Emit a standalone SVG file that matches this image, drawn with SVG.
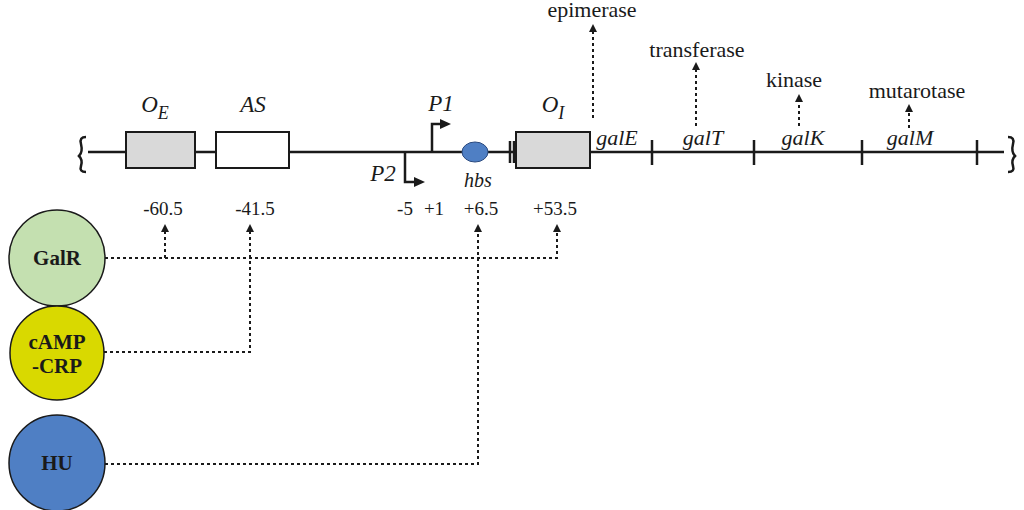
<svg xmlns="http://www.w3.org/2000/svg" width="1024" height="510" viewBox="0 0 1024 510">
<style>
.ln{stroke:#1a1a1a;stroke-width:2.5;fill:none}
.dt{stroke:#1a1a1a;stroke-width:2;stroke-dasharray:3,3;fill:none}
.t{font-family:"Liberation Serif",serif;font-size:19px;fill:#1a1a1a;text-anchor:middle}
.i{font-style:italic}
.g{font-size:22px}
.e{font-size:22px}
.b{font-size:23px}
.c{font-family:"Liberation Serif",serif;font-size:21px;font-weight:bold;fill:#1a1a1a;text-anchor:middle}
.box{stroke:#1a1a1a;stroke-width:2}
</style>
<defs>
<marker id="ah" markerWidth="8" markerHeight="8" refX="4" refY="4" orient="auto" markerUnits="userSpaceOnUse"><path d="M0,0L8,4L0,8z" fill="#1a1a1a"/></marker>
<marker id="pa" markerWidth="12" markerHeight="12" refX="2" refY="6" orient="auto" markerUnits="userSpaceOnUse"><path d="M0,1L11,6L0,11z" fill="#1a1a1a"/></marker>
</defs>
<g id="dna">
<line class="ln" x1="88" y1="152" x2="1004" y2="152"/>
<path class="ln" d="M86,137 Q79,137 81,144 Q83,152 79,156 Q83,160 81,166 Q79,172 86,172" stroke-width="2"/>
<path class="ln" d="M1008,137 Q1015,137 1013,144 Q1011,152 1015,156 Q1011,160 1013,166 Q1015,172 1008,172" stroke-width="2"/>
<line class="ln" x1="510" y1="141" x2="510" y2="163" stroke-width="2"/>
<line class="ln" x1="514" y1="141" x2="514" y2="163" stroke-width="2"/>
<line class="ln" x1="652" y1="140" x2="652" y2="165"/>
<line class="ln" x1="754" y1="140" x2="754" y2="165"/>
<line class="ln" x1="862" y1="140" x2="862" y2="165"/>
<line class="ln" x1="977" y1="140" x2="977" y2="165"/>
</g>
<g id="OE"><rect class="box" x="126" y="132" width="69" height="36" fill="#d9d9d9"/><text class="t i b" x="155" y="112">O<tspan style="font-size:18px" dy="7">E</tspan></text></g>
<g id="AS"><rect class="box" x="216" y="132" width="73" height="36" fill="#fff"/><text class="t i b" x="253" y="112">AS</text></g>
<g id="P1"><path class="ln" d="M432,152V124H442" stroke-width="3" marker-end="url(#pa)"/><text class="t i b" x="441" y="111">P1</text></g>
<g id="P2"><path class="ln" d="M405,152V182H416" stroke-width="3" marker-end="url(#pa)"/><text class="t i b" x="383" y="181">P2</text></g>
<g id="hbs"><ellipse cx="475" cy="152" rx="13" ry="10" fill="#4f7fc4" stroke="#2a4a80" stroke-width="1"/><text class="t i" x="478" y="187" style="font-size:20px">hbs</text></g>
<g id="OI"><rect class="box" x="516" y="132" width="74" height="36" fill="#d9d9d9"/><text class="t i b" x="553" y="112">O<tspan style="font-size:18px" dy="7">I</tspan></text></g>
<g id="genes">
<text class="t i g" x="617" y="145">galE</text>
<text class="t i g" x="703" y="145">galT</text>
<text class="t i g" x="803" y="145">galK</text>
<text class="t i g" x="910" y="145">galM</text>
<text class="t e" x="592" y="17">epimerase</text>
<text class="t e" x="697" y="57">transferase</text>
<text class="t e" x="794" y="87">kinase</text>
<text class="t e" x="917" y="98">mutarotase</text>
</g>
<g id="positions">
<text class="t" x="163" y="215">-60.5</text>
<text class="t" x="255" y="215">-41.5</text>
<text class="t" x="405" y="215">-5</text>
<text class="t" x="434" y="215">+1</text>
<text class="t" x="481" y="215">+6.5</text>
<text class="t" x="555" y="215">+53.5</text>
</g>
<g id="GalR"><circle cx="57" cy="258" r="48" fill="#c4e0b0" stroke="#1a1a1a" stroke-width="1.5"/><text class="c" x="57" y="265">GalR</text></g>
<g id="cAMP-CRP"><circle cx="57" cy="353" r="47" fill="#d9d900" stroke="#1a1a1a" stroke-width="1.5"/><text class="c" x="57" y="349">cAMP</text><text class="c" x="57" y="373">-CRP</text></g>
<g id="HU"><circle cx="57" cy="463" r="48" fill="#4f7fc4" stroke="#1a1a1a" stroke-width="1.5"/><text class="c" x="57" y="470">HU</text></g>
<g id="connectors">
<path class="dt" d="M593,118V28" marker-end="url(#ah)"/>
<path class="dt" d="M696,126V66" marker-end="url(#ah)"/>
<path class="dt" d="M799,126V98" marker-end="url(#ah)"/>
<path class="dt" d="M909,128V108" marker-end="url(#ah)"/>
<path class="dt" d="M105,258H557V228" marker-end="url(#ah)"/>
<path class="dt" d="M165,258V228" marker-end="url(#ah)"/>
<path class="dt" d="M104,352H250V228" marker-end="url(#ah)"/>
<path class="dt" d="M105,464H478V228" marker-end="url(#ah)"/>
</g>
</svg>
